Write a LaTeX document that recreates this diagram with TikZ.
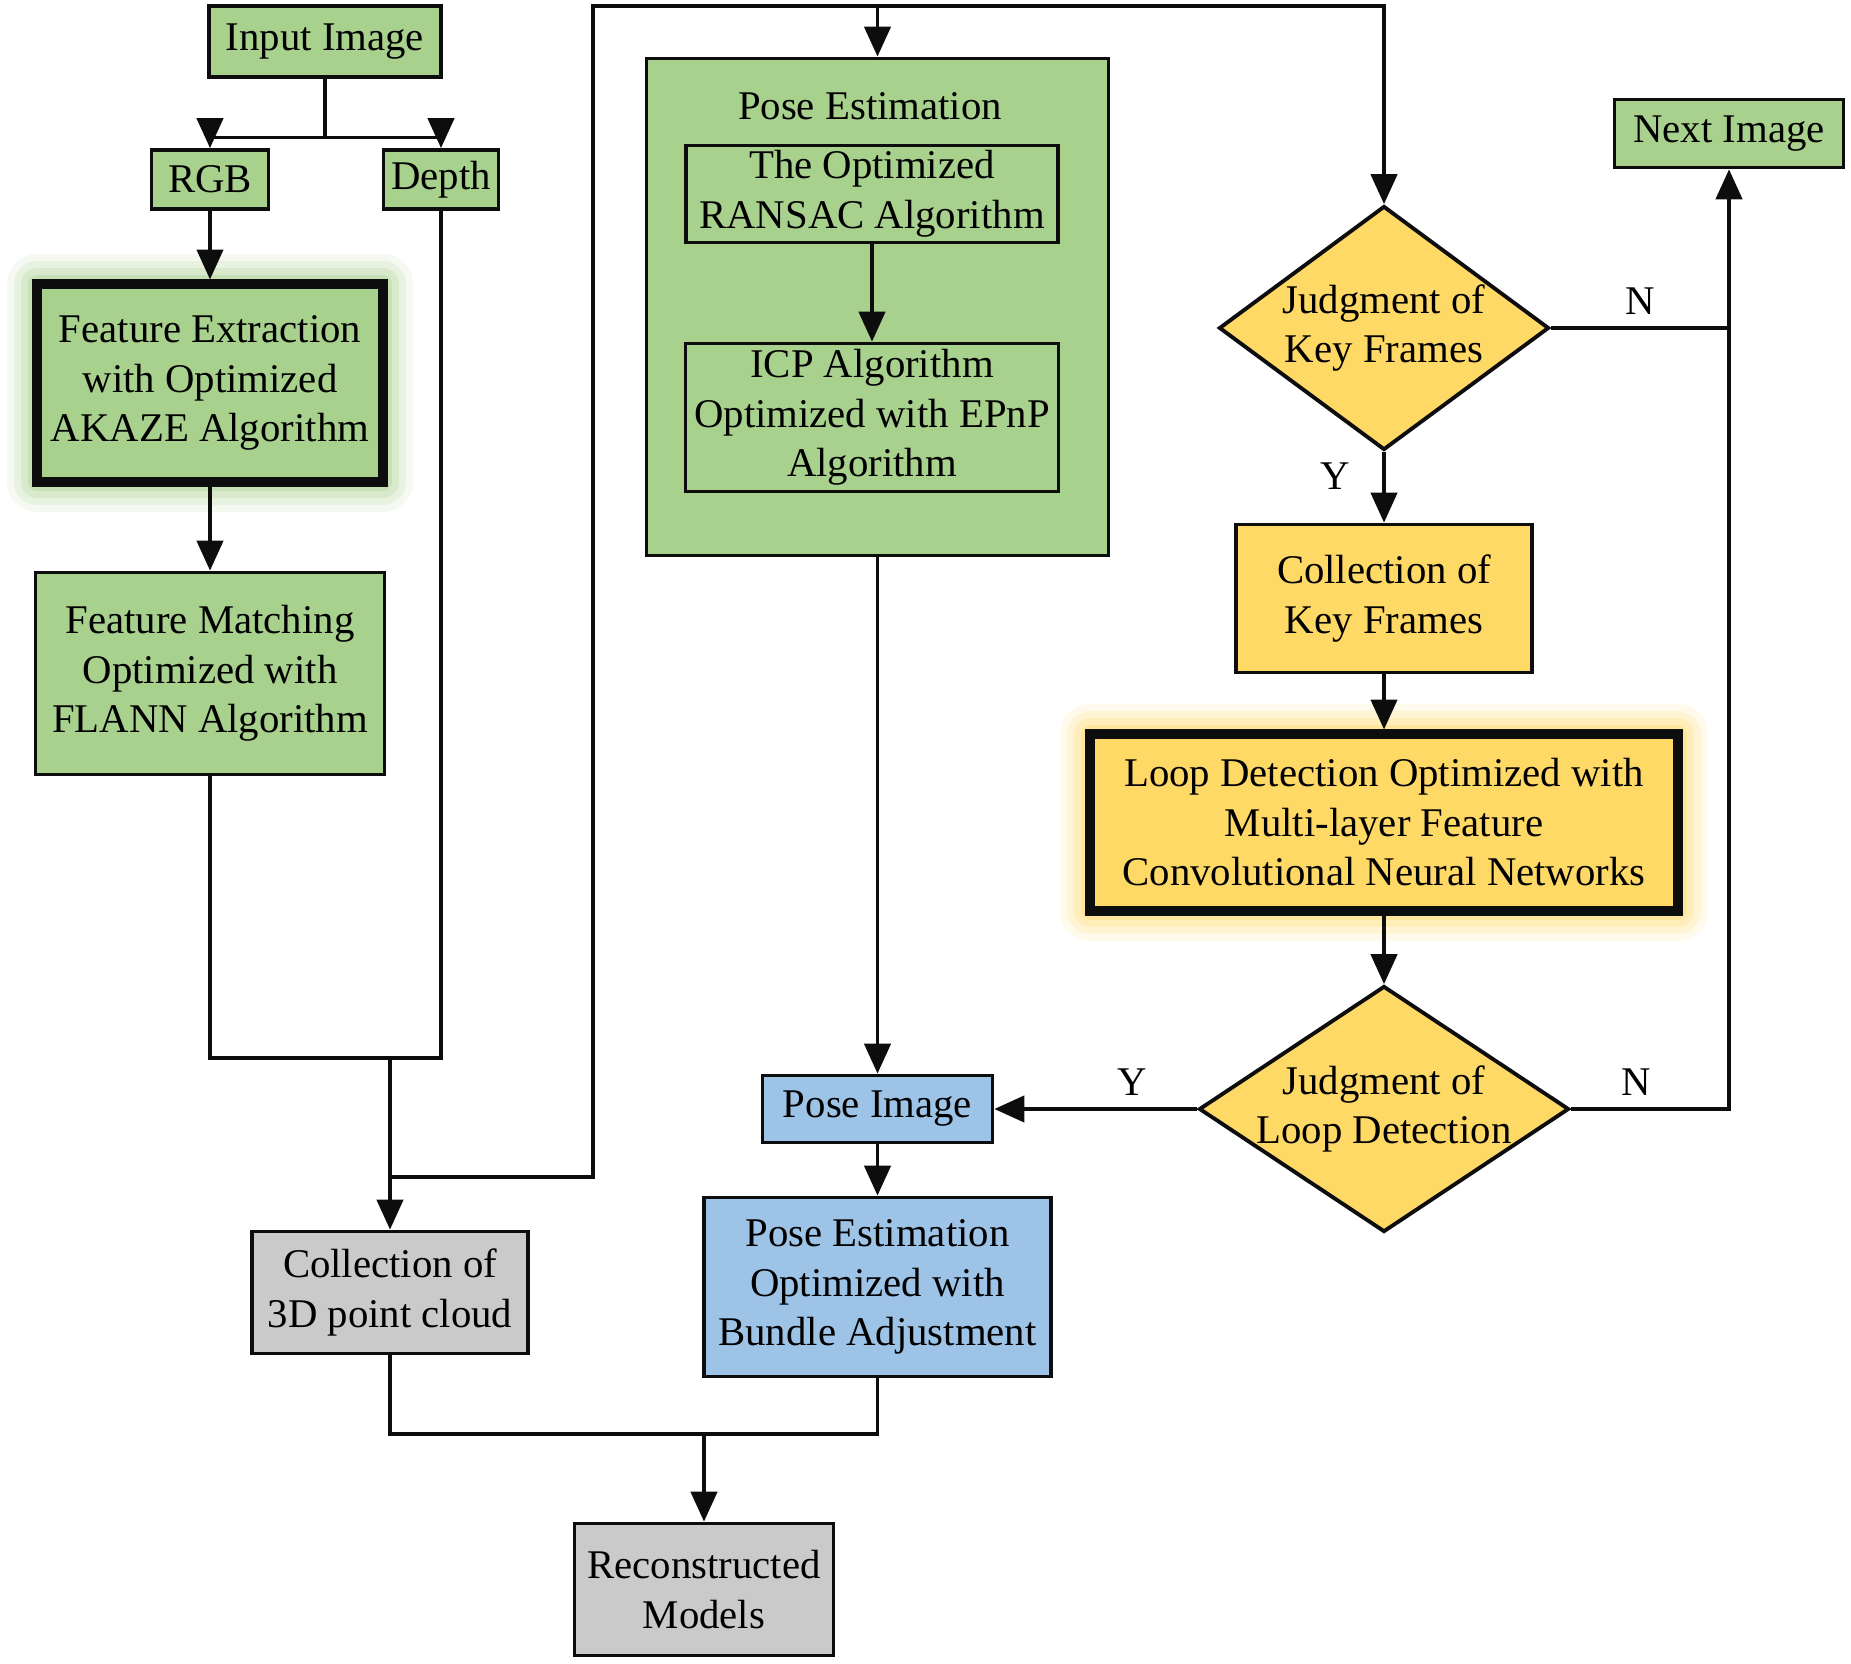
\documentclass[tikz,border=0pt]{standalone}
\usepackage{fontspec}
\setmainfont{Liberation Serif}
\usetikzlibrary{arrows.meta, shapes.geometric, positioning}
\definecolor{ink}{HTML}{0D0D0D}
\definecolor{leaf}{HTML}{A9D18E}
\definecolor{sun}{HTML}{FFD966}
\definecolor{sky}{HTML}{9DC3E6}
\definecolor{ash}{HTML}{CACACA}
\tikzset{box/.style={draw=ink, line width=1.1pt, align=center, inner sep=0pt},
  heavy/.style={line width=2.6pt, preaction={draw=#1, line width=17pt, line join=round, opacity=0.12},
    preaction={draw=#1, line width=13pt, line join=round, opacity=0.18},
    preaction={draw=#1, line width=9pt, line join=round, opacity=0.25},
    preaction={draw=#1, line width=5pt, line join=round, opacity=0.35}},
  judge/.style={diamond, draw=ink, line width=1.1pt, fill=sun, align=center, inner sep=-8pt},
  ln/.style={draw=ink, line width=0.9pt},
  arr/.style={ln, -{Triangle[length=8.5pt, width=7.5pt]}}}

\begin{document}
\begin{tikzpicture}[font=\fontsize{11.6}{14.1}\selectfont]
  \useasboundingbox (0,0) rectangle (18.51,-16.64);
  \node[box, fill=leaf, minimum width=2.32cm, minimum height=0.71cm] (inp) at (3.25,-0.415) {Input Image};
  \node[box, fill=leaf, minimum width=1.17cm, minimum height=0.59cm] (rgb) at (2.10,-1.795) {RGB};
  \node[box, fill=leaf, minimum width=1.15cm, minimum height=0.59cm] (dep) at (4.41,-1.795) {Depth};
  \node[box, heavy=leaf, fill=leaf, minimum width=3.46cm, minimum height=1.98cm] (fext) at (2.10,-3.83) {Feature Extraction\\with Optimized\\AKAZE Algorithm};
  \node[box, fill=leaf, minimum width=3.49cm, minimum height=2.02cm] (fmat) at (2.10,-6.735) {Feature Matching\\Optimized with\\FLANN Algorithm};
  \node[box, fill=leaf, minimum width=4.62cm, minimum height=4.97cm] (pe) at (8.775,-3.07) {};
  \node (pet) at (8.70,-1.06) {Pose Estimation};
  \node[box, fill=leaf, minimum width=3.72cm, minimum height=0.97cm] (ransac) at (8.72,-1.94) {The Optimized\\RANSAC Algorithm};
  \node[box, fill=leaf, minimum width=3.73cm, minimum height=1.48cm] (icp) at (8.72,-4.175) {ICP Algorithm\\Optimized with EPnP\\Algorithm};
  \node[box, fill=leaf, minimum width=2.29cm, minimum height=0.68cm] (nxt) at (17.29,-1.335) {Next Image};
  \node[judge, minimum width=3.30cm, minimum height=2.44cm] (jkf) at (13.84,-3.28) {Judgment of\\Key Frames};
  \node[box, fill=sun, minimum width=2.96cm, minimum height=1.48cm] (ckf) at (13.84,-5.985) {Collection of\\Key Frames};
  \node[box, heavy=sun, fill=sun, minimum width=5.88cm, minimum height=1.77cm] (loop) at (13.84,-8.225) {Loop Detection Optimized with\\Multi-layer Feature\\Convolutional Neural Networks};
  \node[judge, minimum width=3.70cm, minimum height=2.46cm] (jld) at (13.84,-11.09) {Judgment of\\Loop Detection};
  \node[box, fill=sky, minimum width=2.30cm, minimum height=0.67cm] (pimg) at (8.775,-11.09) {Pose Image};
  \node[box, fill=sky, minimum width=3.47cm, minimum height=1.79cm] (pba) at (8.775,-12.87) {Pose Estimation\\Optimized with\\Bundle Adjustment};
  \node[box, fill=ash, minimum width=2.76cm, minimum height=1.22cm] (c3d) at (3.90,-12.925) {Collection of\\3D point cloud};
  \node[box, fill=ash, minimum width=2.59cm, minimum height=1.32cm] (rec) at (7.04,-15.895) {Reconstructed\\Models};

  \coordinate[below=0.59cm of inp] (fork);
  \coordinate (mrg) at (3.90,-10.58);
  \coordinate (brk) at (3.90,-11.77);
  \coordinate (top) at (5.93,-0.06);
  \coordinate (mrg2) at (7.04,-14.34);
  \draw[ln] (inp.south) -- (fork);
  \draw[arr] (fork) -| (rgb.north);
  \draw[arr] (fork) -| (dep.north);
  \foreach \a/\b in {rgb/fext, fext/fmat, ransac/icp, pe/pimg, ckf/loop, loop/jld, pimg/pba}{\draw[arr] (\a) -- (\b);}
  \draw[ln] (fmat.south) |- (mrg) -| (dep.south);
  \draw[arr] (mrg) -- (c3d.north);
  \draw[arr] (brk) -| (top) -| (jkf.north);
  \draw[arr] (pe.north |- top) -- (pe.north);
  \draw[ln] (jkf.east) -- node[above]{N} (jkf.east -| nxt.south);
  \draw[arr] (jkf.south) -- node[left=6pt, pos=0.35]{Y} (ckf.north);
  \draw[arr] (jld.east) -- node[above, pos=0.41]{N} (jld.east -| nxt.south) -- (nxt.south);
  \draw[arr] (jld.west) -- node[above, pos=0.32]{Y} (pimg.east);
  \draw[ln] (c3d.south) |- (mrg2) -| (pba.south);
  \draw[arr] (mrg2) -- (rec.north);
\end{tikzpicture}
\end{document}
